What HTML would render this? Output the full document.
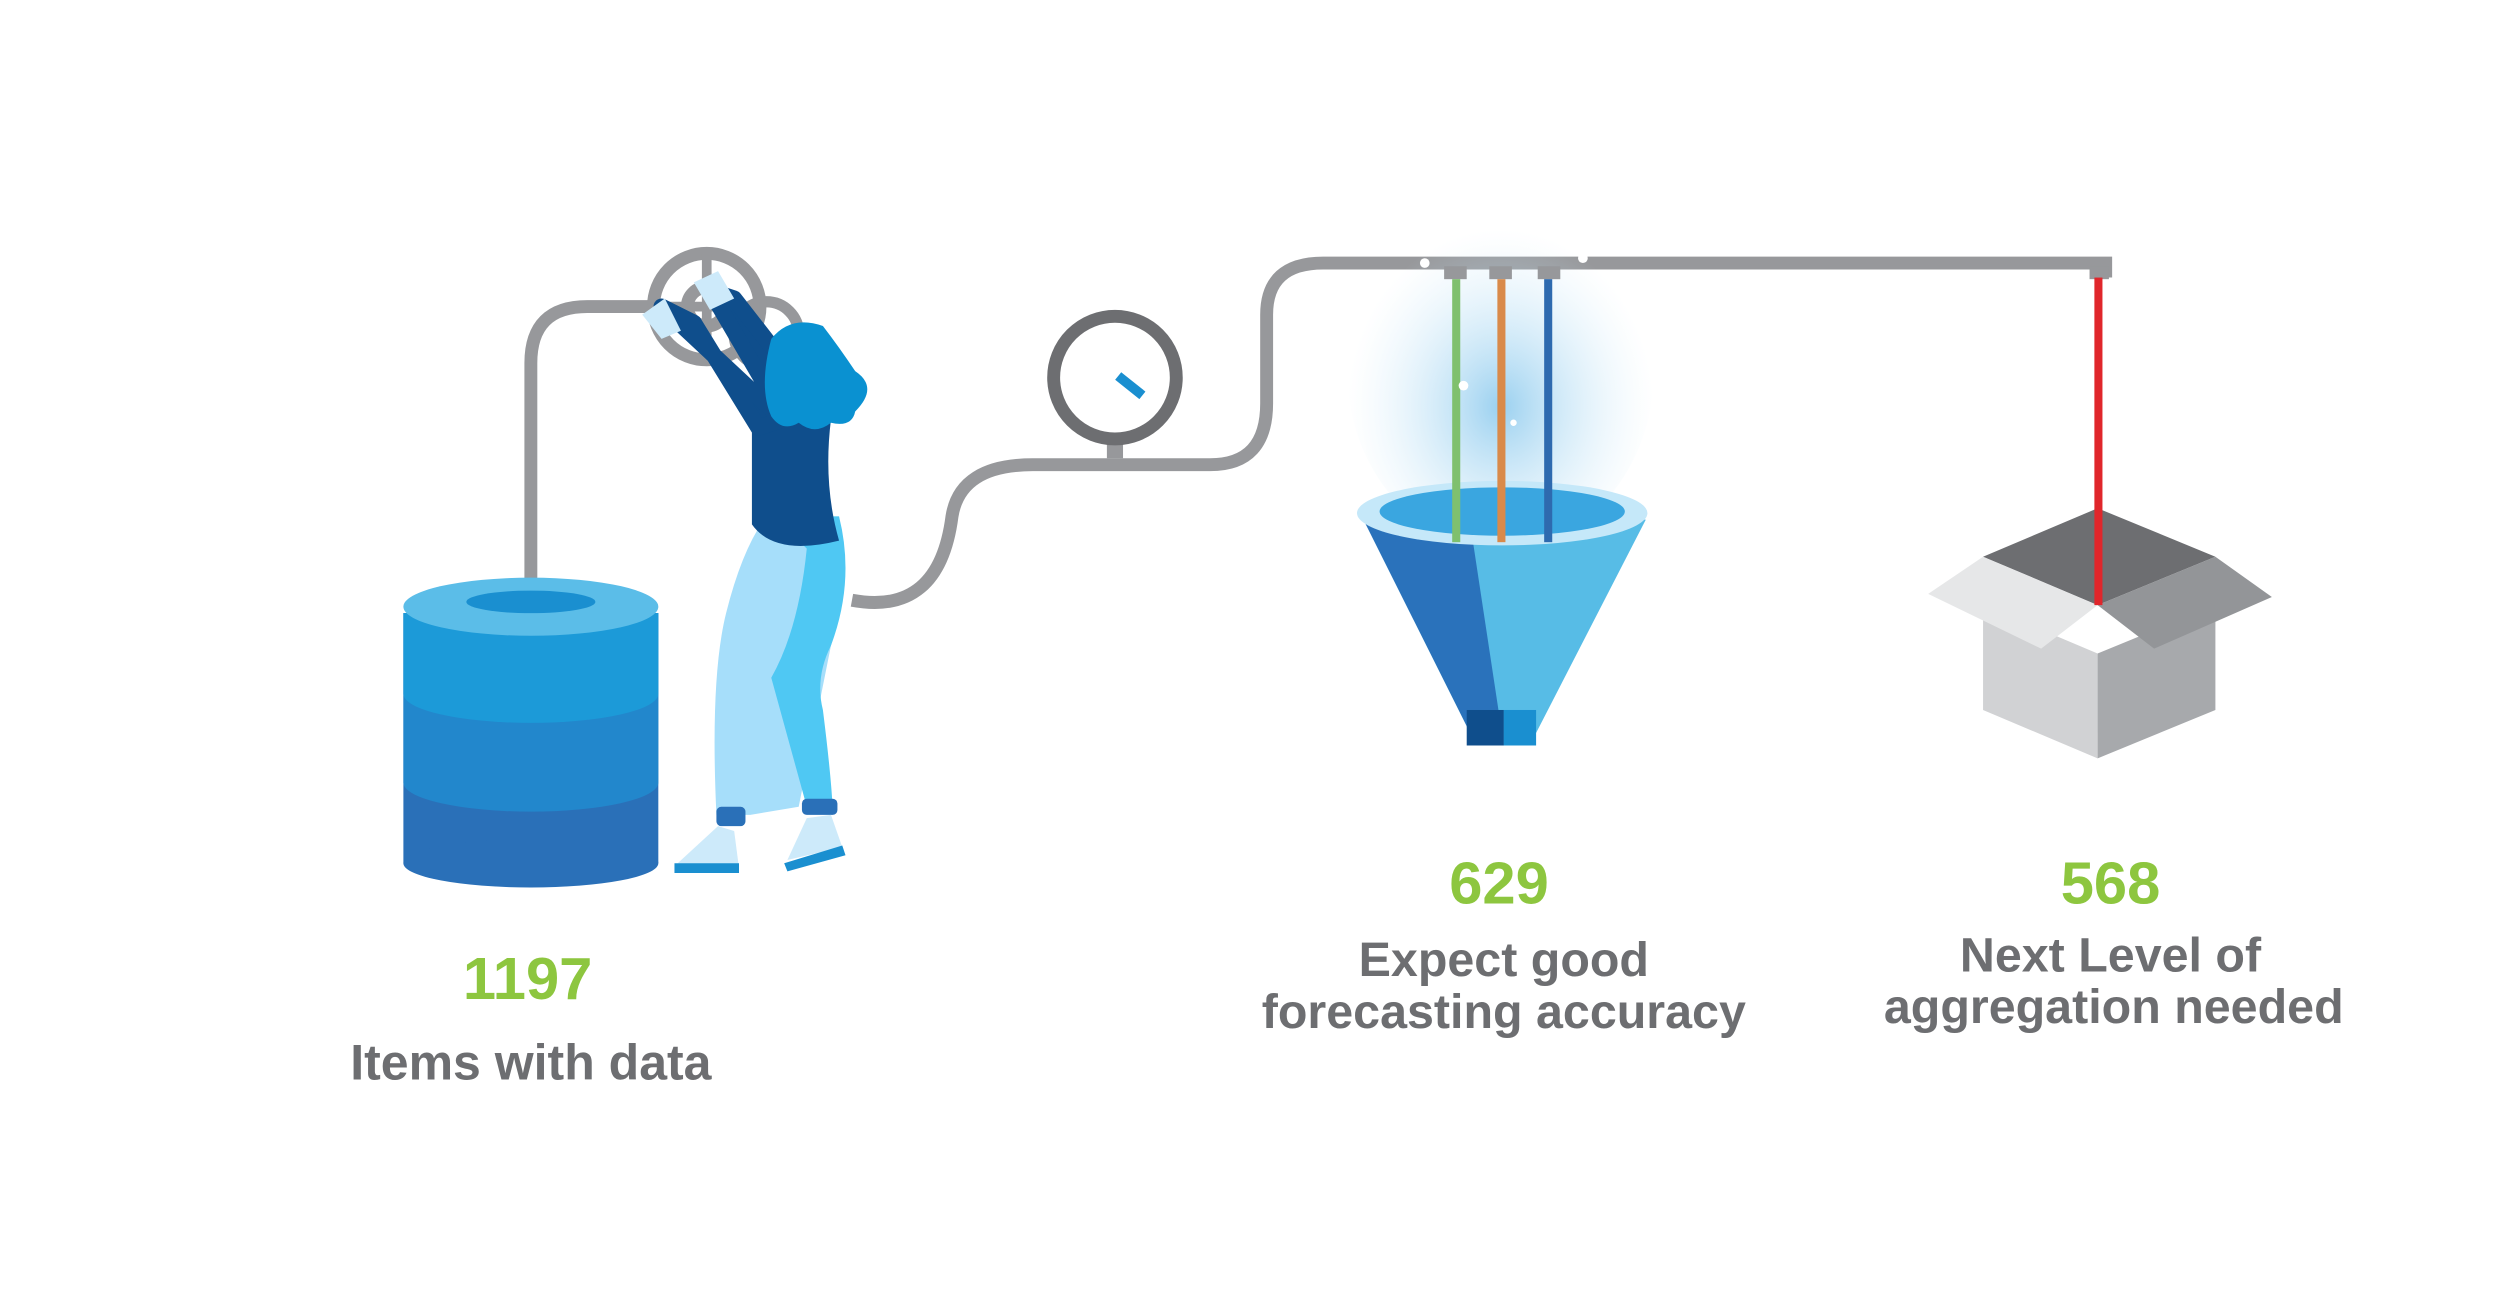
<!DOCTYPE html>
<html><head><meta charset="utf-8"><style>
html,body{margin:0;padding:0;background:#fff;}
svg{display:block;}
text{font-family:"Liberation Sans",sans-serif;font-weight:bold;text-anchor:middle;}
</style></head><body>
<svg width="2501" height="1313" viewBox="0 0 1550 813.7" xmlns="http://www.w3.org/2000/svg">
<defs>
<radialGradient id="glow" cx="0.5" cy="0.6" r="0.5">
<stop offset="0" stop-color="#8fcbee" stop-opacity="0.9"/>
<stop offset="1" stop-color="#d8eefa" stop-opacity="0"/>
</radialGradient>
</defs>
<path d="M329,372 V225 Q329,190 364,190 H405" fill="none" stroke="#97989b" stroke-width="8"/>
<path d="M250,535 V380 H408 V535 Z" fill="#2a70b8"/>
<path d="M250,485 V380 H408 V485 A79,18 0 0 1 250,485 Z" fill="#2287cc"/>
<path d="M250,430 V380 H408 V430 A79,18 0 0 1 250,430 Z" fill="#1c9ad8"/>
<ellipse cx="329" cy="535" rx="79" ry="15" fill="#2a70b8"/>
<ellipse cx="329" cy="376" rx="79" ry="18" fill="#5bbde8"/>
<ellipse cx="329" cy="373" rx="40" ry="7" fill="#1a8fd0"/>
<circle cx="475" cy="207" r="20" fill="none" stroke="#97989b" stroke-width="7"/>
<circle cx="438" cy="190" r="33" fill="none" stroke="#97989b" stroke-width="8"/>
<circle cx="438" cy="190" r="12" fill="none" stroke="#97989b" stroke-width="8"/>
<path d="M438,157 V223 M405,190 H471" stroke="#97989b" stroke-width="6"/>
<path d="M528,372 Q582,382 590,320 Q595,288 640,288 H750 Q785,288 785,250 V195 Q785,163 820,163 H1305 V172" fill="none" stroke="#97989b" stroke-width="8"/>
<rect x="1295" y="165" width="12" height="8" fill="#97989b"/>
<rect x="686" y="270" width="10" height="14" fill="#97989b"/>
<circle cx="691" cy="234" r="38" fill="#fff" stroke="#6d6e71" stroke-width="8"/>
<path d="M693,233 L708,245" stroke="#1a8fd0" stroke-width="6"/>
<!-- woman -->
<path d="M444,505 Q440,420 450,380 Q460,340 475,320 L520,320 Q525,360 515,400 L495,500 L465,505 Z" fill="#a6defa"/>
<path d="M480,320 L520,320 Q530,360 515,400 Q505,420 510,440 Q515,480 516,500 L500,500 L478,420 Q495,390 500,340 Z" fill="#4fc8f3"/>
<path d="M466,265 L466,325 Q480,345 520,335 Q510,300 515,260 L500,235 Z" fill="#0f4e8c"/>
<path d="M410,190 L430,200 L470,265 L485,260 Z M440,180 L455,185 L490,230 L478,245 Z" fill="#0f4e8c" stroke="#0f4e8c" stroke-width="10" stroke-linejoin="round"/>
<path d="M398,195 L412,185 L422,205 L410,210 Z M430,175 L445,168 L455,185 L440,192 Z" fill="#cdeafa"/>
<path d="M478,210 Q490,195 510,202 Q520,215 530,230 Q545,240 530,255 Q528,265 515,262 Q505,270 495,262 Q485,268 478,258 Q470,240 478,210 Z" fill="#0a91d1"/>
<rect x="444" y="500" width="18" height="12" rx="3" fill="#2a70b8"/>
<rect x="497" y="495" width="22" height="10" rx="3" fill="#2a70b8"/>
<path d="M420,535 L458,538 L455,515 L445,512 Z" fill="#cdeafa"/>
<path d="M488,533 L522,525 L515,505 L500,507 Z" fill="#cdeafa"/>
<path d="M418,535 H458 V541 H418 Z M486,535 L522,524 L524,530 L488,540 Z" fill="#1a8fd0"/>
<ellipse cx="930" cy="230" rx="95" ry="110" fill="url(#glow)"/>
<path d="M845,322 L915,462 H948 L1020,322 Z" fill="#57bce6"/>
<path d="M845,322 L915,462 H932 L912,330 Z" fill="#2a72bb"/>
<rect x="909" y="440" width="23" height="22" fill="#0f4e8c"/>
<rect x="932" y="440" width="20" height="22" fill="#1a8fd0"/>
<ellipse cx="931" cy="318" rx="90" ry="20" fill="#c5e8f9"/>
<ellipse cx="931" cy="317" rx="76" ry="15" fill="#3aa6e0"/>
<rect x="895" y="165" width="14" height="8" fill="#97989b"/>
<rect x="923" y="165" width="14" height="8" fill="#97989b"/>
<rect x="953" y="165" width="14" height="8" fill="#97989b"/>
<rect x="900" y="173" width="5" height="163" fill="#7fc06e"/>
<rect x="928" y="173" width="5" height="163" fill="#d98a4a"/>
<rect x="957" y="173" width="5" height="163" fill="#2e6aaf"/>
<circle cx="883" cy="163" r="3" fill="#fff"/><circle cx="981" cy="160" r="3" fill="#fff"/>
<circle cx="907" cy="239" r="3" fill="#fff"/><circle cx="938" cy="262" r="2" fill="#fff"/>
<path d="M1229,375 L1300,405 V470 L1229,440 Z" fill="#d1d2d4"/>
<path d="M1300,405 L1373,375 V440 L1300,470 Z" fill="#a7a9ac"/>
<path d="M1229,345 L1300,315 L1373,345 L1300,375 Z" fill="#6d6e71"/>
<path d="M1229,345 L1195,368 L1265,402 L1300,375 Z" fill="#e6e7e8"/>
<path d="M1373,345 L1408,370 L1335,402 L1300,375 Z" fill="#939598"/>
<rect x="1298" y="172" width="5" height="203" fill="#e0262b"/>
<text x="327" y="619" font-size="37" fill="#8dc63f">1197</text>
<text x="329" y="669" font-size="31" fill="#6d6e71">Items with data</text>
<text x="929" y="560" font-size="37" fill="#8dc63f">629</text>
<text x="932" y="605" font-size="30" fill="#6d6e71">Expect good</text>
<text x="932" y="637" font-size="30" fill="#6d6e71">forecasting accuracy</text>
<text x="1308" y="560" font-size="37" fill="#8dc63f">568</text>
<text x="1308" y="602" font-size="30" fill="#6d6e71">Next Level of</text>
<text x="1310" y="634" font-size="30" fill="#6d6e71">aggregation needed</text>
</svg>
</body></html>
